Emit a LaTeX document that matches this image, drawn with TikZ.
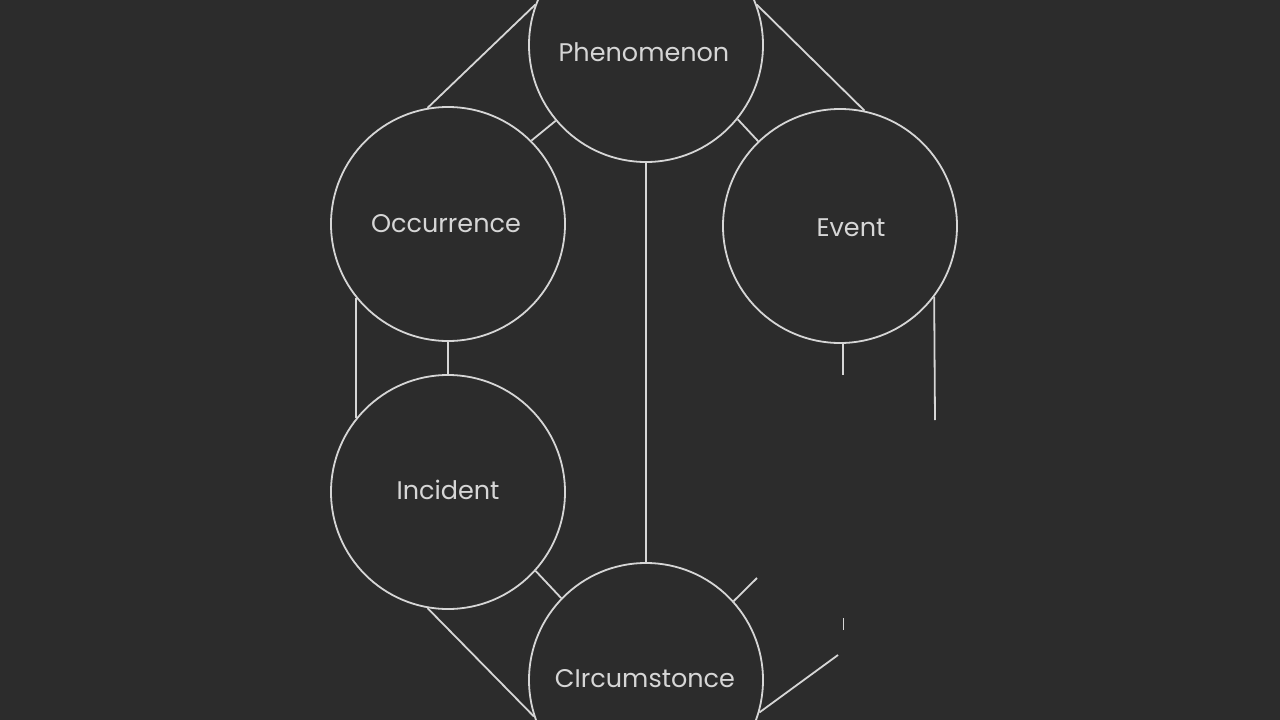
\documentclass[tikz,border=0pt]{standalone}
\usepackage{fontspec}
\setmainfont{Poppins}
\definecolor{bg}{HTML}{2C2C2C}
\definecolor{fg}{HTML}{D6D6D6}
\begin{document}
\begin{tikzpicture}[x=1pt,y=-1pt,
  ring/.style={circle,draw=fg,fill=bg,line width=1.8pt,minimum size=234pt,inner sep=0pt},
  lab/.style={text=fg,font=\fontsize{25.5}{30}\selectfont},
  link/.style={draw=fg,line width=1.8pt}]
\fill[bg] (0,0) rectangle (1280,720);
\useasboundingbox (0,0) rectangle (1280,720);
\begin{scope}
\clip (0,0) rectangle (1280,720);
\node[ring] (phen) at (646,45) {};
\node[ring] (occ) at (448,224) {};
\node[ring] (ev) at (840,226) {};
\node[ring] (inc) at (448,492) {};
\node[ring] (circ) at (646,680) {};
\node[lab] (phent) at (644,52) {Phenomenon};
\node[lab] (occt) at (446,224) {Occurrence};
\node[lab] (evt) at (851,228) {Event};
\node[lab] (inct) at (448,490) {Incident};
\node[lab] (circt) at (645,679) {CIrcumstonce};
\coordinate (e1) at (843,375);
\coordinate (e2) at (935,420);
\coordinate (c1) at (757,578);
\coordinate (c2) at (838,655);
\coordinate (d1) at (843,618);
\coordinate (d2) at (843,630);
\draw[link] (occ.100) -- (phen.160);
\draw[link] (occ.45) -- (phen.220);
\draw[link] (phen.-39) -- (ev.134);
\draw[link] (phen.20) -- (ev.78);
\draw[link] (phen.south) -- (circ.north);
\draw[link] (occ.219) -- (inc.141);
\draw[link] (occ.south) -- (inc.north);
\draw[link] (e1 |- ev.south) -- (e1);
\draw[link] (ev.-37) -- (e2);
\draw[link] (inc.-42) -- (circ.136);
\draw[link] (inc.-100) -- (circ.-162);
\draw[link] (circ.42) -- (c1);
\draw[link] (circ.-16) -- (c2);
\draw[link,line width=1pt] (d1) -- (d2);
\end{scope}
\end{tikzpicture}
\end{document}
